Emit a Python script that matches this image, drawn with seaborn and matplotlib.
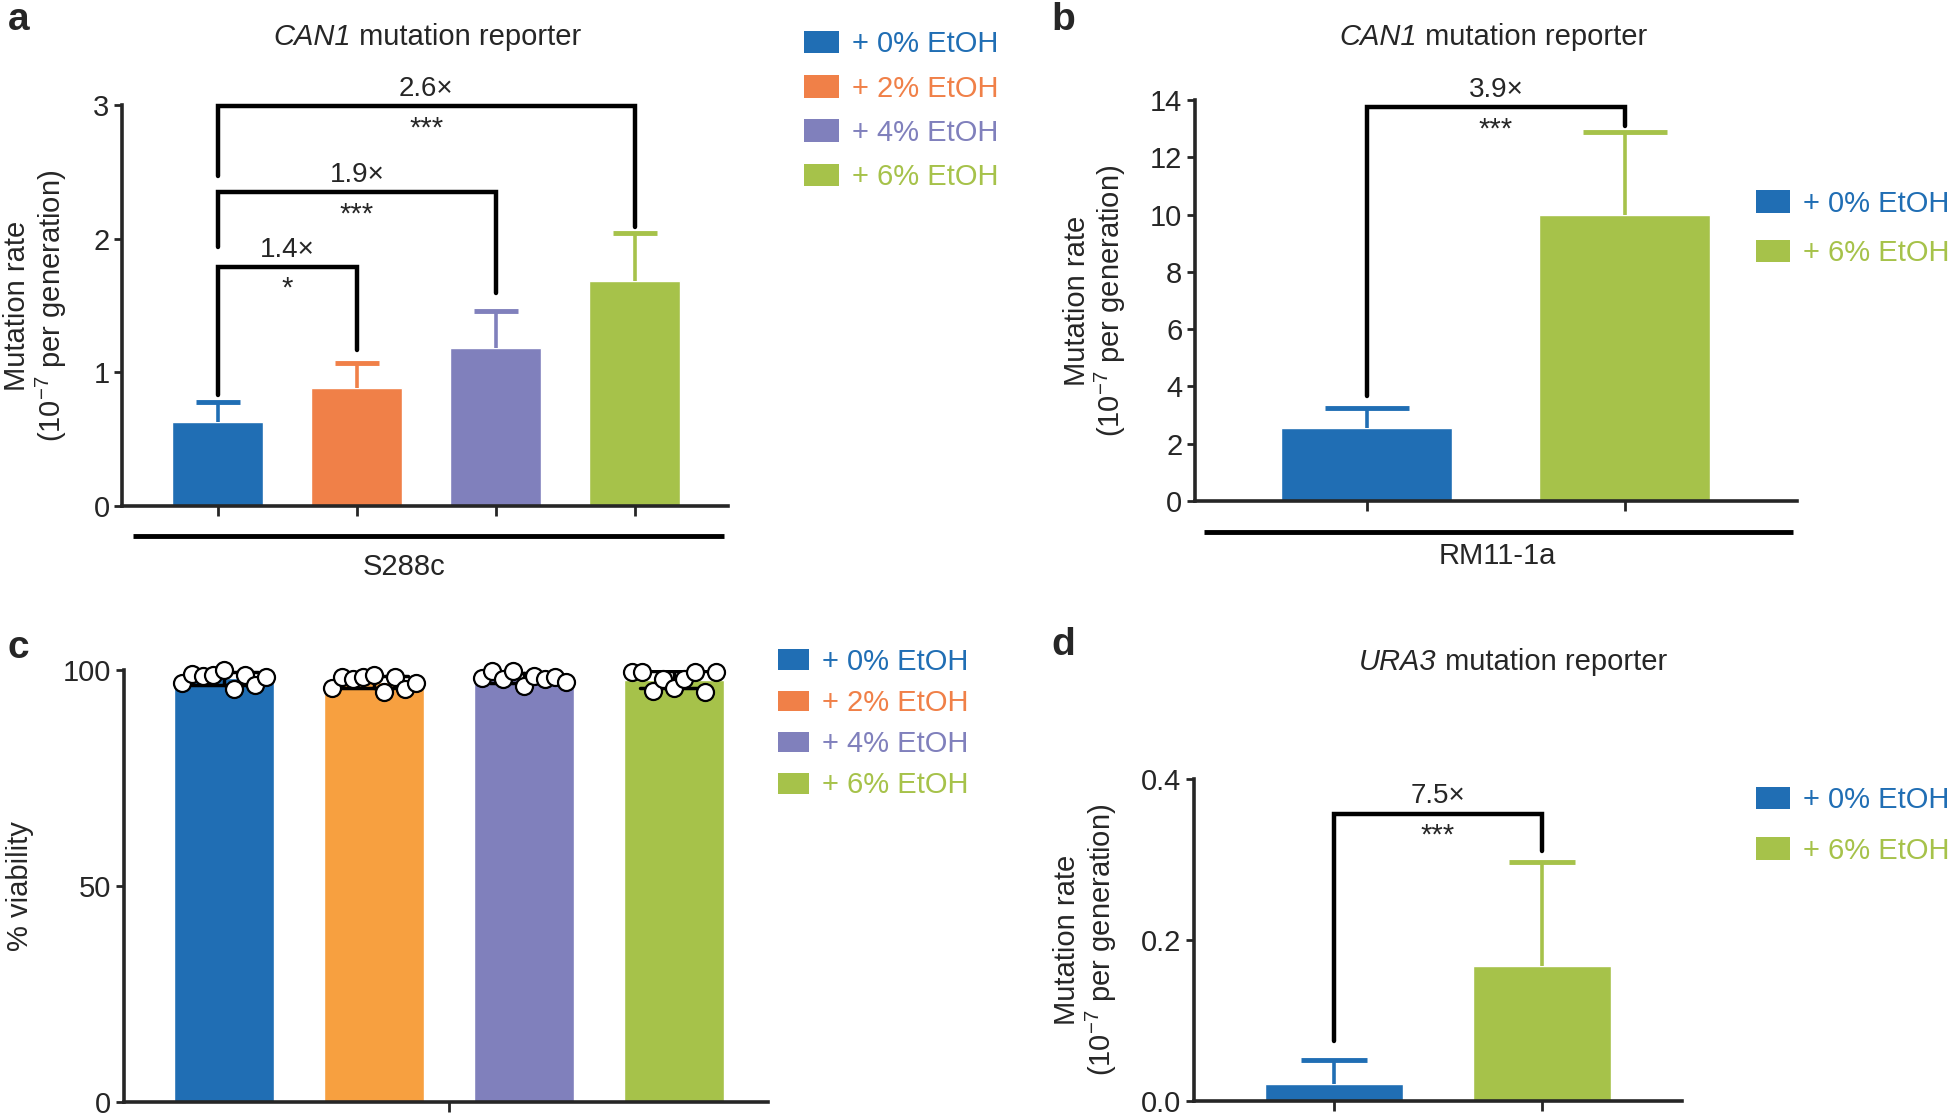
import numpy as np
import pandas as pd
import matplotlib
matplotlib.use("Agg")
import matplotlib.pyplot as plt
from matplotlib.patches import Patch
import seaborn as sns

# --- data ---
groups_a = ['+ 0% EtOH', '+ 2% EtOH', '+ 4% EtOH', '+ 6% EtOH']
rate_a = [0.63, 0.88, 1.18, 1.68]
err_a = [0.15, 0.19, 0.28, 0.36]
pairs_a = [(0, 1), (0, 2), (0, 3)]
fold_a = ['1.4×', '1.9×', '2.6×']
stars_a = ['*', '***', '***']
bracket_y_a = [1.79, 2.35, 2.99]
leg_left_a = [0.83, 1.94, 2.47]
leg_right_a = [1.17, 1.59, 2.09]

groups_b = ['+ 0% EtOH', '+ 6% EtOH']
rate_b = [2.55, 9.99]
err_b = [0.71, 2.90]
fold_b = ['3.9×']
stars_b = ['***']
bracket_y_b = [13.74]
leg_left_b = [3.65]
leg_right_b = [13.09]

groups_d = ['+ 0% EtOH', '+ 6% EtOH']
rate_d = [0.021, 0.168]
err_d = [0.030, 0.129]
fold_d = ['7.5×']
stars_d = ['***']
bracket_y_d = [0.357]
leg_left_d = [0.074]
leg_right_d = [0.31]

viab_0 = [96.9, 99.0, 98.6, 98.9, 100.0, 95.5, 98.8, 96.5, 98.3]
viab_2 = [95.9, 98.5, 97.9, 98.3, 98.8, 94.8, 98.3, 95.5, 96.9]
viab_4 = [98.1, 99.8, 97.9, 99.8, 96.2, 98.6, 97.9, 98.3, 97.2]
viab_6 = [99.6, 99.6, 95.2, 97.9, 95.9, 97.9, 99.6, 94.8, 99.6]

blue, orange, purple, green = '#206EB4', '#F08048', '#8080BC', '#A6C24A'
orange_c = '#F7A040'
cols4 = [blue, orange, purple, green]
cols2 = [blue, green]

sns.set_style('ticks')
plt.rcParams['font.family'] = ['Liberation Sans', 'DejaVu Sans']
plt.rcParams['mathtext.fontset'] = 'custom'
plt.rcParams['mathtext.rm'] = 'Liberation Sans'
plt.rcParams['mathtext.it'] = 'Liberation Sans:italic'

FS = 21
fig = plt.figure(figsize=(19.49, 11.13), dpi=100)


def style_axes(ax):
    sns.despine(ax=ax)
    for s in ['left', 'bottom']:
        ax.spines[s].set_linewidth(2.6)
    ax.tick_params(axis='y', length=6, width=2, labelsize=FS, pad=3)
    ax.tick_params(axis='x', length=7, width=2, labelbottom=False, direction='out')
    ax.set_xlabel('')


def rate_panel(ax, groups, rates, errs, colors, width, cap):
    sns.barplot(x=groups, y=rates, hue=groups, palette=colors, saturation=1,
                width=width, legend=False, ax=ax)
    for i in range(len(rates)):
        _, caps, _ = ax.errorbar(i, rates[i], yerr=[[0], [errs[i]]], fmt='none',
                                 ecolor=colors[i], elinewidth=2.6, capsize=cap,
                                 capthick=3.5, zorder=1)
        for c in caps:
            if c.get_ydata()[0] <= rates[i]:
                c.set_visible(False)
    style_axes(ax)
    ax.set_xticks(range(len(rates)))
    ax.set_xticklabels([])
    ax.set_ylabel('Mutation rate\n(10$^{-7}$ per generation)', fontsize=FS,
                  linespacing=1.08)


def brackets(ax, pairs, ys, lefts, rights, folds, stars):
    for (i, j), y, y0, y1, f, s in zip(pairs, ys, lefts, rights, folds, stars):
        ax.plot([i, i, j, j], [y0, y, y, y1], color='black', lw=3.2,
                solid_joinstyle='miter', clip_on=False, zorder=5)
        ax.annotate(f, ((i + j) / 2, y), xytext=(0, 3), textcoords='offset points',
                    ha='center', va='bottom', fontsize=20)
        ax.annotate(s, ((i + j) / 2, y), xytext=(0, -6), textcoords='offset points',
                    ha='center', va='top', fontsize=21)


def group_line(ax, name, y_line, x0, x1, x_text, y_text):
    ax.plot([x0, x1], [y_line, y_line], transform=ax.transAxes, color='black',
            lw=3.5, clip_on=False, solid_capstyle='butt')
    ax.text(x_text, y_text, name, transform=ax.transAxes, ha='center', va='center',
            fontsize=FS)


def add_legend(ax, labels, colors, x, y, spacing, hl, hh):
    handles = [Patch(facecolor=c, edgecolor='none') for c in colors]
    ax.legend(handles, labels, loc='upper left', bbox_to_anchor=(x, y),
              bbox_transform=fig.transFigure, frameon=False, fontsize=FS,
              labelcolor=colors, handlelength=hl, handleheight=hh,
              handletextpad=0.45, labelspacing=spacing, borderpad=0, borderaxespad=0)


def title(ax, x, y, gene):
    t = fig.text(x, y, gene, style='italic', ha='left', va='center', fontsize=FS)
    ax.annotate(' mutation reporter', xy=(1, 0), xycoords=t, ha='left', va='bottom',
                fontsize=FS, annotation_clip=False)


# === a ===
ax_a = fig.add_axes([0.0626, 0.5454, 0.3109, 0.3603])
rate_panel(ax_a, groups_a, rate_a, err_a, cols4, 0.655, 16)
ax_a.set_ylim(0, 3)
ax_a.set_yticks([0, 1, 2, 3])
ax_a.set_xlim(-0.69, 3.67)
brackets(ax_a, pairs_a, bracket_y_a, leg_left_a, leg_right_a, fold_a, stars_a)
group_line(ax_a, 'S288c', -0.075, 0.018, 0.993, 0.465, -0.152)
ax_a.yaxis.set_label_coords(-0.088, 0.5)
add_legend(ax_a, groups_a, cols4, 0.4125, 0.9728, 0.56, 1.2, 0.82)

# === b ===
ax_b = fig.add_axes([0.6131, 0.5499, 0.3089, 0.3603])
rate_panel(ax_b, groups_b, rate_b, err_b, cols2, 0.663, 30)
ax_b.set_ylim(0, 14)
ax_b.set_yticks(range(0, 15, 2))
ax_b.set_xlim(-0.667, 1.667)
brackets(ax_b, [(0, 1)], bracket_y_b, leg_left_b, leg_right_b, fold_b, stars_b)
group_line(ax_b, 'RM11-1a', -0.077, 0.015, 0.993, 0.502, -0.137)
ax_b.yaxis.set_label_coords(-0.111, 0.5)
add_legend(ax_b, groups_b, cols2, 0.901, 0.8295, 0.74, 1.16, 0.8)

# === c ===
ax_c = fig.add_axes([0.0636, 0.0099, 0.3304, 0.3881])
viab = [viab_0, viab_2, viab_4, viab_6]
df_c = pd.DataFrame({'group': np.repeat(groups_a, [len(v) for v in viab]),
                     'viability': np.concatenate(viab)})
sns.barplot(data=df_c, x='group', y='viability', hue='group',
            palette=[blue, orange_c, purple, green], saturation=1, width=0.667,
            errorbar='sd', capsize=0.45, err_kws={'color': 'black', 'linewidth': 2.5},
            legend=False, ax=ax_c)
for i, v in enumerate(viab):
    xs = i + np.linspace(-0.28, 0.28, len(v))
    ax_c.scatter(xs, v, s=150, facecolor='white', edgecolor='black', linewidth=1.6,
                 zorder=4, clip_on=False)
style_axes(ax_c)
ax_c.set_ylim(0, 100)
ax_c.set_yticks([0, 50, 100])
ax_c.set_xlim(-0.667, 3.627)
ax_c.set_xticks([1.5])
ax_c.set_xticklabels([])
ax_c.set_ylabel('% viability', fontsize=FS)
ax_c.yaxis.set_label_coords(-0.14, 0.5)
add_legend(ax_c, groups_a, cols4, 0.3992, 0.4178, 0.45, 1.06, 0.72)

# === d ===
ax_d = fig.add_axes([0.6126, 0.0108, 0.2504, 0.2893])
rate_panel(ax_d, groups_d, rate_d, err_d, cols2, 0.663, 24)
ax_d.set_ylim(0, 0.4)
ax_d.set_yticks([0, 0.2, 0.4])
ax_d.set_yticklabels(['0.0', '0.2', '0.4'])
ax_d.set_xlim(-0.673, 1.673)
brackets(ax_d, [(0, 1)], bracket_y_d, leg_left_d, leg_right_d, fold_d, stars_d)
ax_d.yaxis.set_label_coords(-0.154, 0.5)
add_legend(ax_d, groups_d, cols2, 0.901, 0.2938, 0.78, 1.16, 0.8)

# === titles and panel letters ===
title(ax_a, 0.1403, 0.9668, 'CAN1')
title(ax_b, 0.6872, 0.9668, 'CAN1')
title(ax_d, 0.6973, 0.4052, 'URA3')
for letter, x, y in [('a', 0.004, 0.982), ('b', 0.5395, 0.982), ('c', 0.004, 0.4178), ('d', 0.5395, 0.4205)]:
    fig.text(x, y, letter, fontsize=28, fontweight='bold', va='center', ha='left')

fig.savefig('out.png', dpi=100)
